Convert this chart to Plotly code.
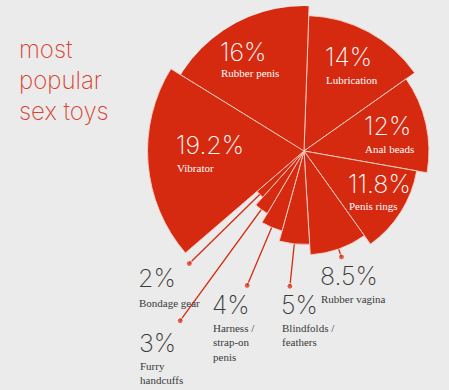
import numpy as np
import plotly.graph_objects as go

# ---- data (clockwise from 12 o'clock) ----
categories = ["Lubrication", "Anal beads", "Penis rings", "Rubber vagina",
              "Blindfolds / feathers", "Harness / strap-on penis",
              "Furry handcuffs", "Bondage gear", "Vibrator", "Rubber penis"]
values = [14, 12, 11.8, 8.5, 5, 4, 3, 2, 19.2, 16]
pct_labels = ["14%", "12%", "11.8%", "8.5%", "5%", "4%", "3%", "2%", "19.2%", "16%"]
name_labels = ["Lubrication", "Anal beads", "Penis rings", "Rubber vagina",
               "Blindfolds /<br>feathers", "Harness /<br>strap-on<br>penis",
               "Furry<br>handcuffs", "Bondage gear", "Vibrator", "Rubber penis"]

# ---- styling / layout constants ----
W, H = 449, 390
BG = "#ebebeb"
RED = "#d52a0f"
DARK = "#3a3a3a"
SEP = "#f2d2c8"
PCT_FONT = "Inter"
NAME_FONT = "Liberation Serif"
ROT = 88            # angular axis rotation (deg, counter-clockwise from east)
K = 10.5            # pixels per radial unit

vals = np.array(values, dtype=float)
widths = vals / vals.sum() * 360.0
starts = np.concatenate([[0], np.cumsum(widths)[:-1]])
mids = starts + widths / 2
# radius grows with rank of value
ranks = np.argsort(np.argsort(vals))
radii = 5.9 + ranks

# main polar placement (pixels)
cx, cy, rpx = 304, 151, 145
dom_x = [(cx - rpx) / W, (cx + rpx) / W]
dom_y = [1 - (cy + rpx) / H, 1 - (cy - rpx) / H]

# the largest wedge does not fit inside the full circle domain: draw it in a
# second polar subplot restricted to its own sector (same centre & scale)
big = int(np.argmax(vals))
others = [i for i in range(len(vals)) if i != big]
s_cw0 = starts[big] + (90 - ROT) - 1.0
s_cw1 = starts[big] + widths[big] + (90 - ROT) + 1.0
sector = [90 - s_cw1, 90 - s_cw0]          # ccw from east

def sector_bbox(s0, s1):
    a0 = s0 % 360
    a1 = a0 + (s1 - s0)
    c0, c1 = np.cos(np.deg2rad(a0)), np.cos(np.deg2rad(a1))
    n0, n1 = np.sin(np.deg2rad(a0)), np.sin(np.deg2rad(a1))
    if (a0 <= 90 <= a1) or (a0 > 90 and a1 >= 450):
        y1 = 1
    elif n0 <= 0 and n1 <= 0:
        y1 = 0
    else:
        y1 = max(n0, n1)
    if (a0 <= 180 <= a1) or (a0 > 180 and a1 >= 540):
        x0 = -1
    elif c0 >= 0 and c1 >= 0:
        x0 = 0
    else:
        x0 = min(c0, c1)
    if (a0 <= 270 <= a1) or (a0 > 270 and a1 >= 630):
        y0 = -1
    elif n0 >= 0 and n1 >= 0:
        y0 = 0
    else:
        y0 = min(n0, n1)
    if a1 >= 360:
        x1 = 1
    elif c0 <= 0 and c1 <= 0:
        x1 = 0
    else:
        x1 = max(c0, c1)
    return x0, y0, x1, y1

R2 = (radii[big] + 0.1) * K
bx0, by0, bx1, by1 = sector_bbox(*sector)
dom2_x = [(cx + bx0 * R2) / W, (cx + bx1 * R2) / W]
dom2_y = [1 - (cy - by0 * R2) / H, 1 - (cy - by1 * R2) / H]

fig = go.Figure()

# leader lines for the small slices (outer labels) on a cartesian overlay
# sharing the same centre and pixel scale as the polar subplot
leader_idx = [3, 4, 5, 6, 7]
leader_len = [10.7, 12.95, 13.9, 20.0, 15.3]
for i, L in zip(leader_idx, leader_len):
    a = np.deg2rad(mids[i] + (90 - ROT))
    rr = np.array([0.0, L])
    fig.add_trace(go.Scatter(
        x=rr * np.sin(a), y=rr * np.cos(a), mode="lines+markers",
        line=dict(color=RED, width=1.3),
        marker=dict(size=[0, 6], color=RED),
        cliponaxis=False, hoverinfo="skip", showlegend=False,
    ))

fig.add_trace(go.Barpolar(
    r=radii[others], theta=mids[others], width=widths[others],
    marker=dict(color=RED, line=dict(color=SEP, width=0.9)),
    hoverinfo="skip", showlegend=False, subplot="polar",
))
fig.add_trace(go.Barpolar(
    r=[radii[big]], theta=[mids[big]], width=[widths[big]],
    marker=dict(color=RED, line=dict(color=SEP, width=0.9)),
    hoverinfo="skip", showlegend=False, subplot="polar2",
))

ang = dict(rotation=ROT, direction="clockwise", visible=False,
           showgrid=False, showline=False, showticklabels=False, ticks="")
fig.update_layout(
    width=W, height=H, margin=dict(l=0, r=0, t=0, b=0),
    paper_bgcolor=BG, plot_bgcolor="rgba(0,0,0,0)",
    xaxis=dict(domain=[0, 1], range=[-cx / K, (W - cx) / K], visible=False, fixedrange=True),
    yaxis=dict(domain=[0, 1], range=[-(H - cy) / K, cy / K], visible=False, fixedrange=True),
    polar=dict(
        domain=dict(x=dom_x, y=dom_y), bgcolor="rgba(0,0,0,0)",
        angularaxis=ang,
        radialaxis=dict(range=[0, rpx / K], visible=False, showgrid=False,
                        showline=False, showticklabels=False, ticks=""),
        bargap=0,
    ),
    polar2=dict(
        domain=dict(x=dom2_x, y=dom2_y), bgcolor="rgba(0,0,0,0)",
        sector=sector,
        angularaxis=ang,
        radialaxis=dict(range=[0, R2 / K], visible=False, showgrid=False,
                        showline=False, showticklabels=False, ticks=""),
        bargap=0,
    ),
)

def px(x):
    return x / W

def py(y):
    return 1 - y / H

# label anchor positions in pixels: (left x, pct centre y, name first-line centre y)
label_pos = {
    0: (325, 57, 78), 1: (364, 126, 147), 2: (348, 184, 204),
    3: (320, 276, 297), 4: (281, 305, 326), 5: (212, 305, 326),
    6: (139, 343, 364), 7: (138, 278, 301), 8: (176, 145, 166), 9: (220, 52, 71),
}
inside = {0, 1, 2, 8, 9}
for i, (lx, ypct, yname) in label_pos.items():
    col = "white" if i in inside else DARK
    fig.add_annotation(x=px(lx - 2), y=py(ypct), xref="paper", yref="paper",
                       text=pct_labels[i], showarrow=False, xanchor="left", yanchor="middle",
                       font=dict(family=PCT_FONT, size=25, color=col, weight=200))
    fig.add_annotation(x=px(lx - 1), y=py(yname - 6), xref="paper", yref="paper",
                       text=name_labels[i], showarrow=False, xanchor="left", yanchor="top",
                       align="left",
                       font=dict(family=NAME_FONT, size=11, color=col))

fig.add_annotation(x=px(17), y=py(33), xref="paper", yref="paper",
                   text="most<br>popular<br>sex toys", showarrow=False,
                   xanchor="left", yanchor="top", align="left",
                   font=dict(family=PCT_FONT, size=24, color="#d8402f", weight=200))

fig.write_html("out.html")
